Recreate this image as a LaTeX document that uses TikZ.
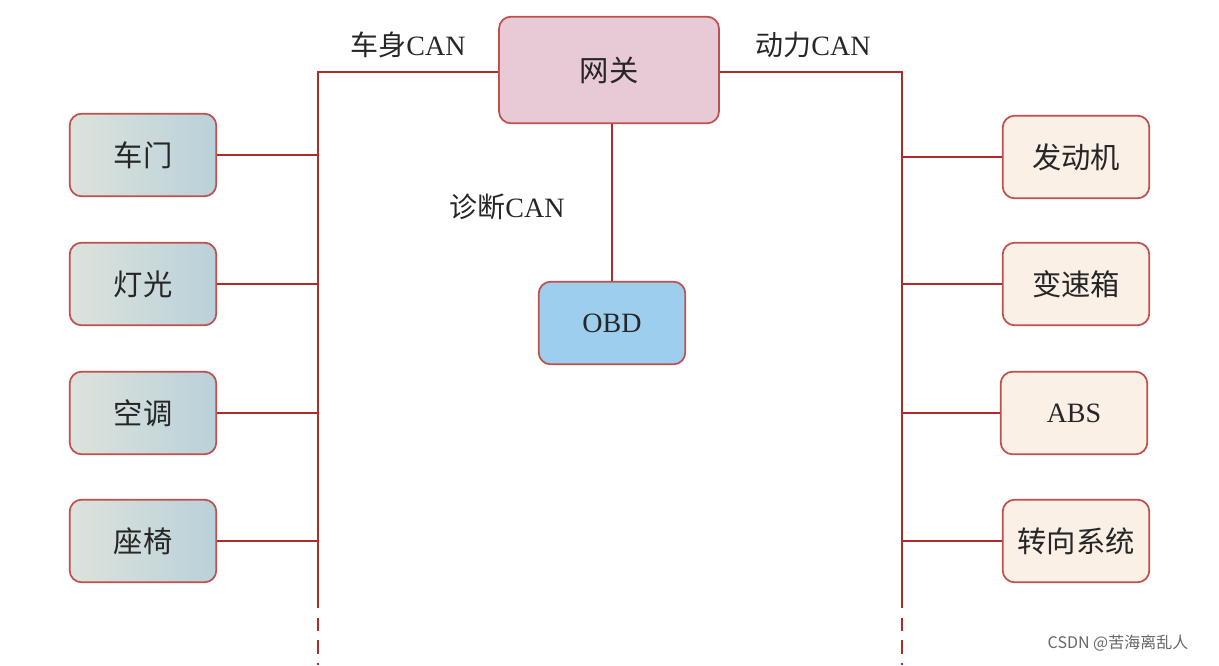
\documentclass[tikz,border=0pt]{standalone}
\usepackage{fontspec}
\setmainfont{Liberation Serif}
\newfontfamily\cjk{Noto Sans CJK SC}
\begin{document}
\begin{tikzpicture}[x=0.75pt,y=-0.75pt,
  bx/.style={draw=boxred,line width=1.3pt,rounded corners=9pt,minimum width=110pt,minimum height=62pt,font=\cjk\fontsize{22pt}{24pt}\selectfont,text=black!85},
  lbox/.style={bx,left color=leftA,right color=leftB},
  rbox/.style={bx,fill=rightF},
  bus/.style={draw=busred,line width=1.3pt},
  lbl/.style={font=\fontsize{21pt}{23pt}\selectfont,text=black!85}]
\definecolor{boxred}{HTML}{C0504D}
\definecolor{busred}{HTML}{B02A2A}
\definecolor{leftA}{HTML}{DDE3DD}
\definecolor{leftB}{HTML}{B9D1D9}
\definecolor{rightF}{HTML}{FBF0E6}
\useasboundingbox (0,0) rectangle (1219,665);
\node[bx,fill={rgb,255:red,232;green,202;blue,214},minimum width=165pt,minimum height=80pt] (gw) at (609,70) {网关};
\node[bx,fill={rgb,255:red,158;green,206;blue,238},font=\fontsize{21pt}{23pt}\selectfont] (obd) at (612,323) {OBD};
\foreach \n/\y/\t in {a/155/车门,b/284/灯光,c/413/空调,d/541/座椅}{
  \node[lbox] (l\n) at (143,\y) {\t};
  \coordinate (bl\n) at (318,\y);
  \draw[bus] (l\n) -- (bl\n);}
\foreach \n/\y/\t in {a/157/发动机,b/284/变速箱,d/541/转向系统}{
  \node[rbox] (r\n) at (1076,\y) {\t};
  \coordinate (br\n) at (902,\y);
  \draw[bus] (r\n) -- (br\n);}
\node[rbox,font=\fontsize{21pt}{23pt}\selectfont] (rc) at (1074,413) {ABS};
\coordinate (brc) at (902,413);
\draw[bus] (rc) -- (brc);
\coordinate (ltop) at (318,72); \coordinate (lmid) at (318,595); \coordinate (lbot) at (318,665);
\coordinate (rtop) at (902,72); \coordinate (rmid) at (902,595); \coordinate (rbot) at (902,665);
\draw[bus] (gw.west |- ltop) -- (ltop) -- (lmid);
\draw[bus] (gw.east |- rtop) -- (rtop) -- (rmid);
\draw[bus,dash pattern=on 10pt off 7pt] (lmid) -- (lbot);
\draw[bus,dash pattern=on 10pt off 7pt] (rmid) -- (rbot);
\draw[bus] (gw.south -| obd.north) -- (obd.north);
\node[lbl] (t1) at (408,45) {{\cjk 车身}CAN};
\node[lbl] (t2) at (813,45) {{\cjk 动力}CAN};
\node[lbl] (t3) at (507,207) {{\cjk 诊断}CAN};
\node[font=\fontsize{12pt}{14pt}\selectfont\cjk,text=black!60] (wm) at (1118,643) {CSDN @苦海离乱人};
\end{tikzpicture}
\end{document}
